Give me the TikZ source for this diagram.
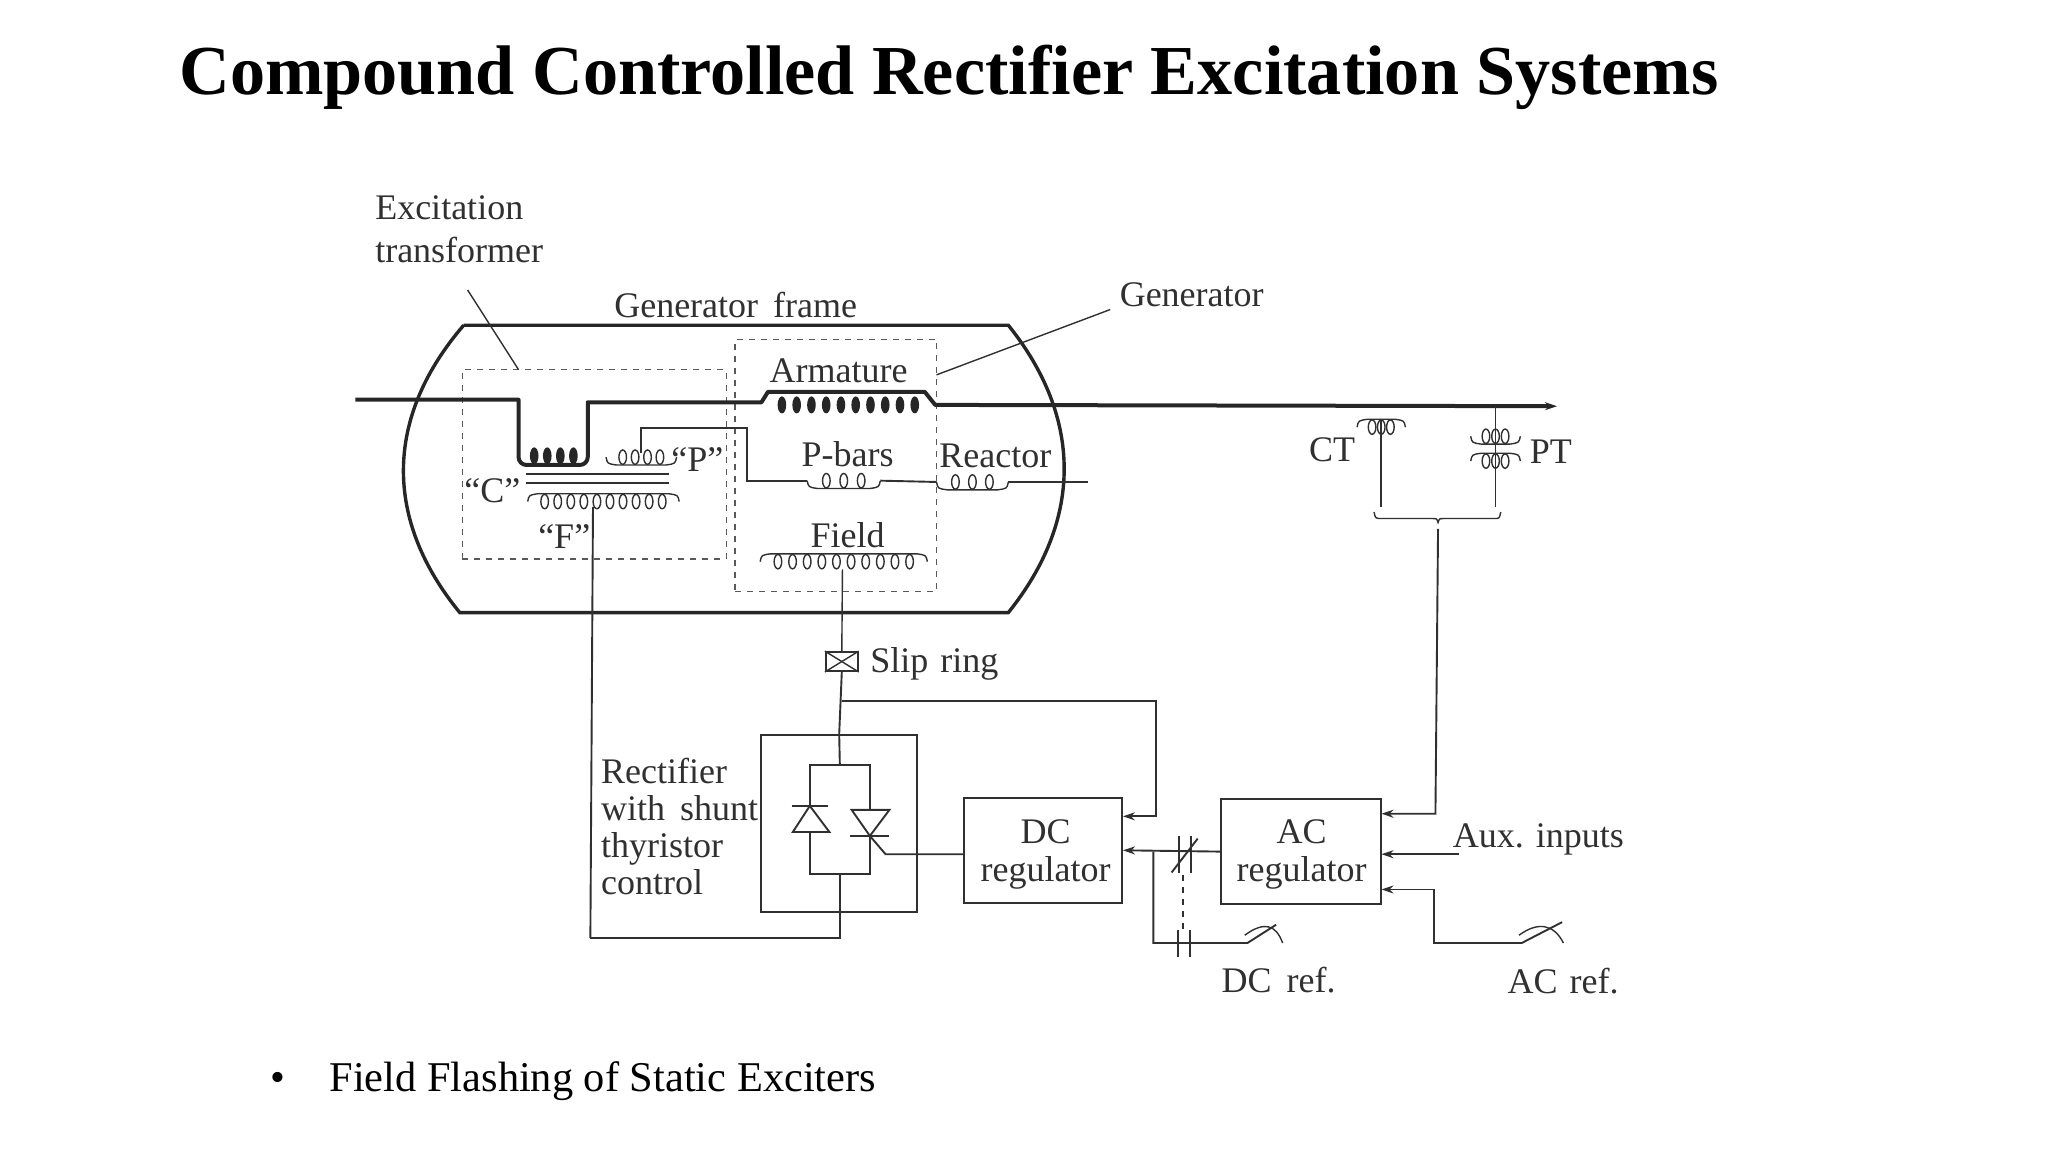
\documentclass[tikz,border=0pt]{standalone}
\usepackage{fontspec}
\setmainfont{Liberation Serif}
\usetikzlibrary{arrows.meta}
\definecolor{ink}{HTML}{303030}
\tikzset{
    wire/.style={draw=ink,line width=0.95pt},
    thinwire/.style={draw=ink,line width=0.7pt},
    bus/.style={draw=black!85,line width=2pt,line join=round},
    dashbox/.style={draw=ink!80,dashed,line width=0.65pt,inner sep=0pt},
    block/.style={draw=ink,line width=1pt,inner sep=0pt},
    lbl/.style={anchor=base west,inner sep=0pt,text=ink,align=left,font=\fontsize{18}{18.5}\selectfont},
    mid/.style={anchor=base,inner sep=0pt,text=ink,align=center,font=\fontsize{18}{19}\selectfont},
    tip/.style={-{Stealth[length=6pt,width=4pt]}}
}
% left x, right x, y, loops, side (1 below, -1 above)
\newcommand{\coilrow}[5]{
    \draw[thinwire] (#1,#3+6*#5) .. controls (#1+1,#3+1*#5) .. (#1+8,#3) -- (#2-8,#3) .. controls (#2-1,#3+1*#5) .. (#2,#3+6*#5);
    \foreach \k in {1,...,#4}
        \draw[thinwire] ({#1+8+(#2-#1-16)*(\k-0.5)/#4},#3+6*#5) ellipse (2.9 and 5.5);
}
\newcommand{\heavyrow}[5]{
    \foreach \k in {1,...,#4}
        \fill[black!85] ({#1+(#2-#1)*(\k-0.5)/#4},#3+6*#5) ellipse (3.3 and 6.5);
}
\begin{document}
\begin{tikzpicture}[x=0.65306pt,y=-0.65306pt]
    \useasboundingbox (0,0) rectangle (1568,882);

    \node[anchor=base west,inner sep=0pt,font=\fontsize{35.1}{38}\selectfont\bfseries] (title) at (137,72)
        {Compound Controlled Rectifier Excitation Systems};

    % generator frame
    \coordinate (frametl) at (355,249);
    \coordinate (frametr) at (772,249);
    \coordinate (framebr) at (772,469);
    \coordinate (framebl) at (352,469);
    \draw[line width=1.7pt,draw=black!85] (frametl) -- (frametr)
        .. controls (829,320) and (829,398) .. (framebr) -- (framebl)
        .. controls (294,398) and (294,320) .. (frametl);

    \node[dashbox,minimum width=131.9pt,minimum height=94.7pt] (exciter) at (455,355.5) {};
    \node[dashbox,minimum width=100.9pt,minimum height=126pt] (gen) at (640,356.5) {};

    \node[lbl] (exlabel) at (287,201) {Excitation\\[3pt]transformer};
    \node[lbl] (genlabel) at (857,235) {Generator};
    \node[lbl] (framelabel) at (470,243) {Generator\, frame};
    \node[mid] (armlabel) at (642,293) {Armature};
    \node[mid] (pbarlabel) at (649,357) {P-bars};
    \node[mid] (reactlabel) at (762,358) {Reactor};
    \node[mid] (fieldlabel) at (649,419) {Field};
    \node[mid] (clabel) at (377,385) {“C”};
    \node[mid] (plabel) at (534,361) {“P”};
    \node[mid] (flabel) at (432,420) {“F”};

    \coordinate (exlead) at (358,222);
    \coordinate (genlead) at (850,237);
    \draw[thinwire] (exlead) -- (397,283);
    \draw[thinwire] (genlead) -- (717,287);

    % main bus with the two heavy windings
    \coordinate (busin) at (272,306);
    \coordinate (busout) at (1192,311);
    \draw[bus,tip] (busin) -- (397,306) [rounded corners=4pt] -- (397,356) -- (450,356) [sharp corners] -- (450,308)
        -- (583,308) -- (588,300) -- (708,300) -- (716,310) -- (busout);
    \heavyrow{593}{706}{304}{10}{1}
    \heavyrow{404}{444}{355}{4}{-1}

    % exciter core and windings
    \draw[wire,line width=1.2pt] (403,363) -- (512,363);
    \draw[wire,line width=1.2pt] (403,370) -- (512,370);
    \coilrow{404}{520}{378}{10}{1}
    \coilrow{464}{518}{356}{4}{-1}
    \coilrow{582}{710}{424}{10}{1}
    \coilrow{618}{674}{374}{3}{-1}
    \coilrow{717}{772}{375}{3}{-1}

    \coordinate (ptap) at (491,347);
    \coordinate (pbarin) at (618,368);
    \coordinate (pbarout) at (674,368);
    \coordinate (reactin) at (717,369);
    \coordinate (reactout) at (833,369);
    \draw[wire] (ptap) -- (491,328) -- (572,328) -- (572,368) -- (pbarin);
    \draw[wire] (pbarout) -- (reactin);
    \draw[wire] (772,369) -- (reactout);

    % slip ring
    \node[draw=ink,line width=1pt,minimum width=15.9pt,minimum height=9.4pt,inner sep=0pt] (slip) at (644.5,506.5) {};
    \draw[thinwire] (slip.north west) -- (slip.south east);
    \draw[thinwire] (slip.south west) -- (slip.north east);
    \node[lbl] (sliplabel) at (666,515) {Slip\kern1.5pt\ ring};
    \coordinate (fieldtap) at (645,436);
    \draw[thinwire] (fieldtap) -- (slip.north);

    % rectifier
    \node[draw=ink,line width=1pt,minimum width=77.7pt,minimum height=88.2pt,inner sep=0pt] (rect) at (642.5,630.5) {};
    \node[lbl] (rectlabel) at (460,685) {Rectifier\\with\, shunt\\thyristor\\control};
    \draw[wire] (slip.south) -- (rect.north);
    \coordinate (bridgetop) at (643,586);
    \coordinate (bridgebot) at (643,669);
    \draw[wire] (rect.north) -- (bridgetop);
    \draw[wire] (620,617) -- (620,586) -- (666,586) -- (666,620);
    \draw[wire] (620,637) -- (620,669) -- (666,669) -- (666,640);
    \draw[wire] (606,617) -- (634,617);
    \draw[wire] (620,617) -- (607,637) -- (635,637) -- cycle;
    \draw[wire] (651,640) -- (681,640);
    \draw[wire] (666,640) -- (652,620) -- (681,620) -- cycle;

    % regulators
    \node[block,minimum width=79pt,minimum height=52.2pt] (dcreg) at (798.5,651) {};
    \node[block,minimum width=79.6pt,minimum height=52.2pt] (acreg) at (996,652) {};
    \node[mid] (dclabel) at (800.5,675) {DC\\regulator};
    \node[mid] (aclabel) at (996.5,675) {AC\\regulator};
    \draw[wire] (666,640) -- (678,654) -- (dcreg.west |- 0,654);

    \coordinate (fbstart) at (645,537);
    \draw[wire,tip] (fbstart) -- (885,537) -- (885,625) -- (dcreg.east |- 0,625);
    \draw[wire,tip] (acreg.west) -- (dcreg.east);
    \draw[wire] (452,718) -- (643,718) -- (bridgebot);
    \coordinate (ftap) at (454,388);
    \draw[wire] (ftap) -- (452,718);

    % DC reference path
    \coordinate (dcjoin) at (883,652);
    \coordinate (dcsw) at (955,722);
    \draw[wire] (dcjoin) -- (883,722) -- (dcsw) -- (977,708);
    \draw[thinwire] (953,716) .. controls (968,705) and (977,708) .. (982,722);
    \draw[wire] (903,640) -- (903,668);
    \draw[wire] (912,640) -- (912,668);
    \draw[wire] (897,668) -- (917,642);
    \draw[wire] (902,712) -- (902,733);
    \draw[wire] (911,712) -- (911,733);
    \draw[wire,dashed] (906,670) -- (906,712);
    \node[lbl] (dcreflabel) at (935,760) {DC\, ref.};

    % AC side
    \coordinate (aux) at (1117,654);
    \coordinate (acsw) at (1165,722);
    \node[lbl] (auxlabel) at (1112,649) {Aux.\kern1.5pt\ inputs};
    \draw[wire,tip] (aux) -- (acreg.east |- 0,654);
    \draw[wire,tip] (acsw) -- (1098,722) -- (1098,681) -- (acreg.east |- 0,681);
    \draw[wire] (acsw) -- (1196,706);
    \draw[thinwire] (1163,716) .. controls (1178,705) and (1190,708) .. (1197,722);
    \node[lbl] (acreflabel) at (1154,761) {AC\kern1.5pt\ ref.};

    % CT and PT
    \coordinate (ctbot) at (1057,388);
    \coordinate (ptbot) at (1145,388);
    \coordinate (pttop) at (1145,311);
    \coordinate (bracemid) at (1101,400);
    \node[lbl] (ctlabel) at (1002,353) {CT};
    \node[lbl] (ptlabel) at (1171,355) {PT};
    \coilrow{1039}{1076}{321}{3}{1}
    \coilrow{1126}{1164}{340}{3}{-1}
    \coilrow{1126}{1164}{347}{3}{1}
    \draw[wire] (1057,321) -- (ctbot);
    \draw[wire] (pttop) -- (ptbot);
    \draw[thinwire] (1052,392) .. controls (1053,397) .. (1058,397) -- (1097,397) .. controls (1100,397) .. (bracemid)
        .. controls (1102,397) .. (1105,397) -- (1144,397) .. controls (1148,397) .. (1149,392);
    \draw[wire,tip] (1101,405) -- (1099,623) -- (acreg.east |- 0,623);

    \node[anchor=base,inner sep=0pt,font=\fontsize{21.2}{24}\selectfont] (dot) at (213,836) {•};
    \node[anchor=base west,inner sep=0pt,font=\fontsize{21.2}{24}\selectfont] (bullet) at (252,836) {Field Flashing of Static Exciters};
\end{tikzpicture}
\end{document}
